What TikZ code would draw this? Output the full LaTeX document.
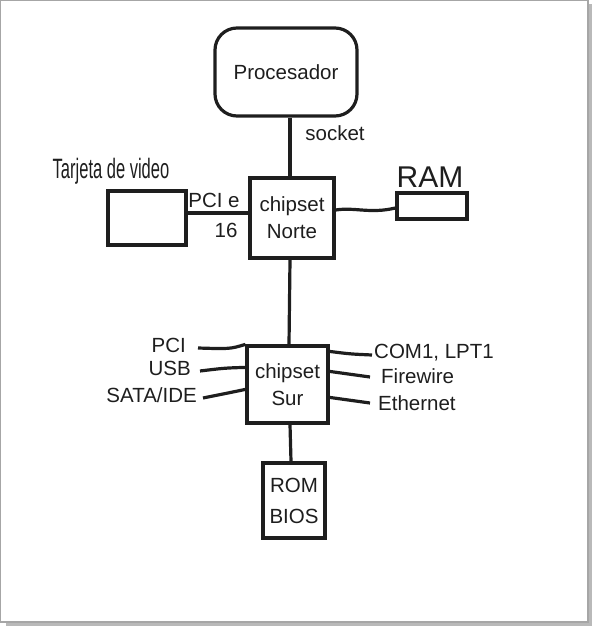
\documentclass[tikz,border=0pt]{standalone}
\usepackage{fontspec}
\setmainfont{Liberation Sans}
\begin{document}
\begin{tikzpicture}[x=1pt,y=-1pt,
  box/.style={draw=ink,line width=3.2pt,fill=white,inner sep=0pt,align=center,font=\fontsize{20.5}{27}\selectfont,text=ink},
  wire/.style={draw=ink,line width=3.2pt},
  lbl/.style={inner sep=0pt,font=\fontsize{20.5}{24}\selectfont,text=ink}]
\definecolor{ink}{HTML}{1E1E1E}
\useasboundingbox (0,0) rectangle (592,626);
% frame with shadow
\fill[gray!55] (6,621) rectangle (592,626);
\fill[gray!55] (587,4) rectangle (592,626);
\draw[gray!70,line width=1.2pt] (0.6,0.6) rectangle (588,622);
% nodes
\node[box,rounded corners=22pt,minimum width=142pt,minimum height=88pt] (proc) at (286,72) {Procesador};
\node[box,minimum width=84pt,minimum height=80pt] (norte) at (292,218) {chipset\\Norte};
\node[box,minimum width=78pt,minimum height=54pt] (video) at (147,218) {};
\node[box,minimum width=70pt,minimum height=26pt] (ram) at (432,206) {};
\node[box,minimum width=81pt,minimum height=77pt] (sur) at (287.5,384.5) {chipset\\Sur};
\node[box,minimum width=62pt,minimum height=75pt] (rom) at (294,500.5) {ROM\\[4pt]BIOS};
% labels
\node[lbl] (socket) at (335,133) {socket};
\node[lbl] (pcie) at (214,200) {PCI e};
\node[lbl] (dieciseis) at (226,230) {16};
\node[inner sep=0pt,text=ink,font=\fontsize{30}{30}\selectfont] (ramlbl) at (430,177) {RAM};
\node[inner sep=0pt,text=ink,font=\fontsize{28}{28}\selectfont] (tarjeta) at (111,171) {\scalebox{0.59}[1]{Tarjeta de video}};
% connectors
\draw[wire] ([xshift=4pt]proc.south) -- ([xshift=-2pt]norte.north);
\draw[wire] ([yshift=5pt]video.east) -- ([yshift=5pt]norte.west);
\draw[wire] ([yshift=8pt]norte.east) .. controls (355,207) and (370,214) .. ([yshift=-2pt]ram.west);
\draw[wire] ([xshift=-2pt]norte.south) -- ([xshift=1.5pt]sur.north);
\draw[wire] ([xshift=2.5pt]sur.south) -- ([xshift=-3pt]rom.north);
% south bridge side lines
\coordinate (cpci) at (198,348);
\coordinate (cusb) at (200,371);
\coordinate (csata) at (203,398);
\coordinate (ccom) at (372,355);
\coordinate (cfire) at (370,377);
\coordinate (ceth) at (370,403);
\draw[wire] (cpci) .. controls (230,349) .. (sur.north west);
\draw[wire] (cusb) .. controls (225,368) .. ([yshift=-23pt]sur.north west);
\draw[wire] (csata) .. controls (228,393) .. ([yshift=-45pt]sur.north west);
\draw[wire] ([yshift=-7pt]sur.north east) .. controls (350,354) .. (ccom);
\draw[wire] ([yshift=-27pt]sur.north east) .. controls (350,374) .. (cfire);
\draw[wire] ([yshift=-53pt]sur.north east) .. controls (350,400) .. (ceth);
\node[lbl,anchor=east] (lpci) at (186,345) {PCI};
\node[lbl,anchor=east] (lusb) at (191,368) {USB};
\node[lbl,anchor=east] (lsata) at (197,395) {SATA/IDE};
\node[lbl,anchor=west] (lcom) at (374,353) {COM1, LPT1};
\node[lbl,anchor=west] (lfire) at (381,376) {Firewire};
\node[lbl,anchor=west] (leth) at (378,403) {Ethernet};
\end{tikzpicture}
\end{document}
